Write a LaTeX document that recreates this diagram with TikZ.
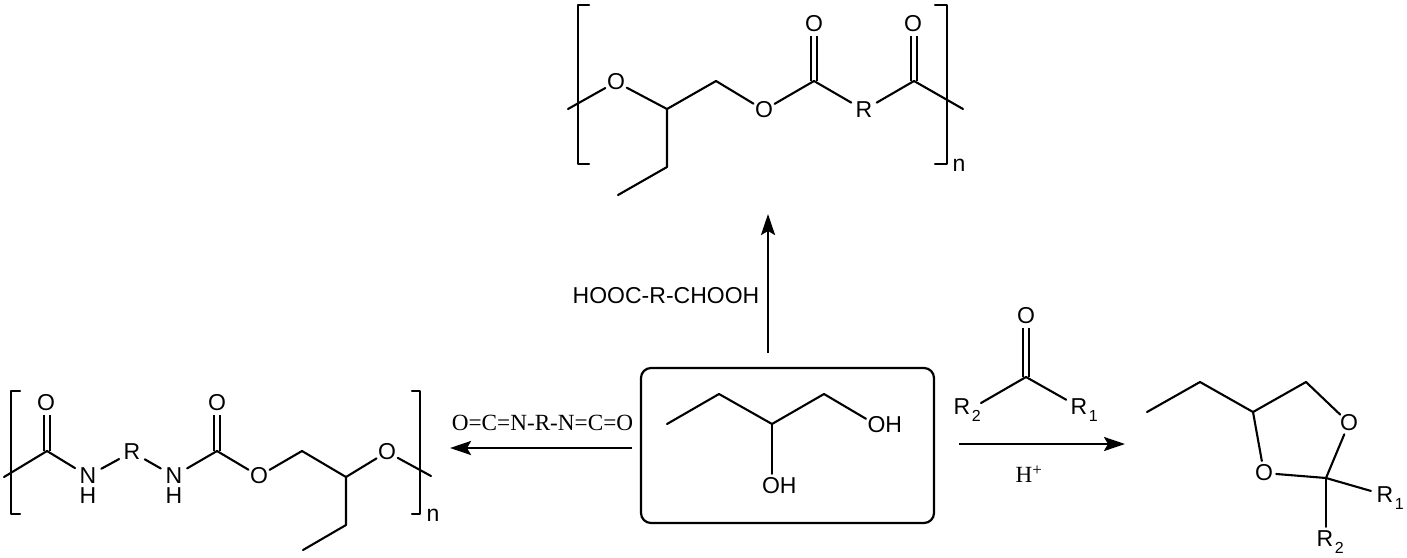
\documentclass[tikz,border=0pt]{standalone}
\usepackage{fontspec}
\setmainfont{Liberation Sans}
\newfontfamily\serifchem{Liberation Serif}
\usetikzlibrary{arrows.meta}
\newcommand{\lowidx}[1]{\smash{\rlap{\kern1.5pt\raisebox{-7pt}{\fontsize{16}{16}\selectfont #1}}}}
\tikzset{
  bond/.style={line width=2.1pt,line cap=round,line join=round},
  dbl/.style={line width=2pt,double,double distance=3.6pt},
  atomO/.style={circle,inner sep=0pt,minimum size=24pt,font=\fontsize{23}{27}\selectfont},
  atomR/.style={circle,inner sep=0pt,minimum size=29pt,font=\fontsize{23}{27}\selectfont},
  atomN/.style={circle,inner sep=0pt,minimum size=30pt,font=\fontsize{23}{27}\selectfont},
  plain/.style={inner sep=0pt,font=\fontsize{23}{27}\selectfont},
  serifl/.style={inner sep=0pt,font=\serifchem\fontsize{23.2}{27}\selectfont},
  rxn/.style={line width=2.5pt,-{Stealth[length=21pt,width=14pt,inset=4pt]}},
  frame/.style={draw,line width=2.2pt,rounded corners=10pt,minimum width=293pt,minimum height=155pt,inner sep=0pt}
}
\begin{document}
\begin{tikzpicture}[x=1pt,y=-1pt]
\useasboundingbox (0,0) rectangle (1407,557);

% ---------- central diol in its frame
\node[frame] (box) at (787.5,445.5) {};
\coordinate (c1) at (667,424);
\coordinate (c2) at (719,394);
\coordinate (c3) at (772,424);
\coordinate (c4) at (824,394);
\node[atomO] (coh1) at (876.5,425) {O\rlap{H}};
\node[atomO] (coh2) at (771,486) {O\rlap{H}};
\draw[bond] (c1) -- (c2) -- (c3) -- (c4) -- (coh1);
\draw[bond] (c3) -- (c3 |- coh2.north);

% ---------- top polyester
\coordinate (ts) at (568,109);
\node[atomO] (to1) at (616,82) {O};
\coordinate (ta) at (667,109);
\coordinate (tb) at (667,167);
\coordinate (tc) at (618,195);
\coordinate (td) at (716,81);
\node[atomO] (to2) at (764,110) {O};
\coordinate (te) at (814,81);
\node[atomO] (to3) at (814,24) {O};
\node[atomR] (tr) at (864,110) {R};
\coordinate (tf) at (914,81);
\node[atomO] (to4) at (913,24) {O};
\coordinate (tg) at (963,109);
\draw[dbl] (te) -- (te |- to3.south);
\draw[dbl] (tf) -- (tf |- to4.south);
\draw[bond] (ts) -- (to1) -- (ta) -- (td) -- (to2) -- (te) -- (tr) -- (tf) -- (tg);
\draw[bond] (ta) -- (tb) -- (tc);
\draw[bond] (589,5) -- (578,5) -- (578,164) -- (589,164);
\draw[bond] (935,5) -- (947,5) -- (947,164) -- (935,164);
\node[plain] (tn) at (959,165) {n};

% ---------- left polyurethane
\coordinate (ls) at (4,477);
\coordinate (la) at (47,451);
\node[atomO] (lo1) at (46,403) {O};
\node[atomN] (ln1) at (88,476) {N};
\node[plain] (lh1) at (88,495.5) {H};
\node[atomR] (lr) at (132,452) {R};
\node[atomN] (ln2) at (174,476) {N};
\node[plain] (lh2) at (174,495.5) {H};
\coordinate (lb) at (217,451);
\node[atomO] (lo2) at (217,403) {O};
\node[atomO] (lo3) at (259,476) {O};
\coordinate (lc) at (302,451);
\coordinate (ld) at (346,477);
\node[atomO] (lo4) at (387,452) {O};
\coordinate (le) at (431,476);
\coordinate (lf) at (346,525);
\coordinate (lg) at (303,550);
\draw[dbl] (la) -- (la |- lo1.south);
\draw[dbl] (lb) -- (lb |- lo2.south);
\draw[bond] (ls) -- (la) -- (ln1) -- (lr) -- (ln2) -- (lb) -- (lo3) -- (lc) -- (ld) -- (lo4) -- (le);
\draw[bond] (ld) -- (lf) -- (lg);
\draw[bond] (20,391) -- (11,391) -- (11,514) -- (20,514);
\draw[bond] (412,391) -- (420,391) -- (420,514) -- (412,514);
\node[plain] (ln) at (433,515) {n};

% ---------- ketone reagent
\node[atomO] (ko) at (1026,316) {O};
\coordinate (kc) at (1026,377);
\node[atomR] (kr2) at (962,407) {R\lowidx{2}};
\node[atomR] (kr1) at (1079,407) {R\lowidx{1}};
\coordinate (kr2b) at (981,403);
\draw[dbl] (kc) -- (ko);
\draw[bond] (kr2b) -- (kc);
\draw[bond] (kc) -- (kr1);

% ---------- dioxolane product
\coordinate (d1) at (1147,412);
\coordinate (d2) at (1200,382);
\coordinate (d3) at (1253,412);
\coordinate (d4) at (1306,382);
\node[atomO] (do1) at (1349,423) {O};
\coordinate (d5) at (1326,478);
\node[atomO] (do2) at (1264,473) {O};
\node[atomR] (dr1) at (1385,495) {R\lowidx{1}};
\node[atomO] (dr2) at (1325,539) {R\lowidx{2}};
\draw[bond] (d1) -- (d2) -- (d3) -- (d4) -- (do1) -- (d5) -- (do2) -- (d3);
\draw[bond] (d5) -- (dr1);
\draw[bond] (d5) -- (d5 |- dr2.north);

% ---------- reaction arrows and labels
\coordinate (upS) at (768,353);
\coordinate (upE) at (768,214);
\draw[rxn] (upS) -- (upE);
\node[plain] (acid) at (666,296) {HOOC-R-CHOOH};
\coordinate (leS) at (632,448);
\coordinate (leE) at (450,448);
\draw[rxn] (leS) -- (leE);
\node[serifl] (iso) at (542.5,423) {O=C=N-R-N=C=O};
\coordinate (riS) at (959,444);
\coordinate (riE) at (1125,444);
\draw[rxn] (riS) -- (riE);
\node[serifl] (hp) at (1024,474.5) {H\smash{\rlap{\raisebox{7pt}{\fontsize{17}{17}\selectfont +}}}};
\end{tikzpicture}
\end{document}
